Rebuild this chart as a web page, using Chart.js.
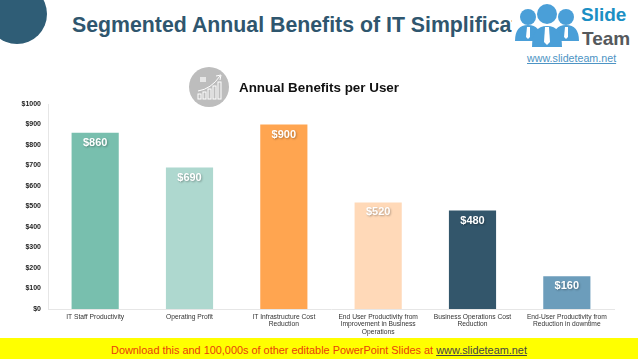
<!DOCTYPE html>
<html>
<head>
<meta charset="utf-8">
<script src="https://cdn.jsdelivr.net/npm/chart.js@4"></script>
<style>
  html, body { margin: 0; padding: 0; background: #fff; }
  body { width: 638px; height: 359px; position: relative; overflow: hidden; font-family: "Liberation Sans", Arial, sans-serif; }
  #chartBox { position: absolute; left: 0; top: 0; width: 638px; height: 359px; }
  .title { position: absolute; left: 72px; top: 13px; font-size: 21.3px; font-weight: bold; color: #2f566e; white-space: nowrap; }
  .subtitle { position: absolute; left: 239px; top: 80px; font-size: 13.4px; font-weight: bold; color: #111; white-space: nowrap; }
  .logo { position: absolute; left: 512px; top: 0; width: 126px; height: 66px; background: #fff; }
  .logo .slide { position: absolute; left: 69px; top: 4px; font-size: 19px; font-weight: bold; color: #1b8fc4; }
  .logo .team { position: absolute; left: 70px; top: 28px; font-size: 19px; font-weight: bold; color: #55595c; }
  .logo .url { position: absolute; left: 15px; top: 52px; font-size: 10.7px; color: #4d94c4; text-decoration: underline; white-space: nowrap; }
  .banner { position: absolute; left: 0; top: 338px; width: 638px; height: 21px; background: #ffff00; text-align: center; font-size: 10.9px; line-height: 24px; color: #e8400c; white-space: nowrap; }
  .banner span { color: #444; text-decoration: underline; }
  svg { position: absolute; }
</style>
</head>
<body>
<div class="title">Segmented Annual Benefits of IT Simplification</div>
<div id="chartBox"><canvas id="myChart" width="638" height="359"></canvas></div>
<svg style="left:0;top:0" width="60" height="60"><circle cx="17" cy="14" r="30" fill="#2f5d76"/></svg>
<svg style="left:189px;top:67px" width="40" height="40" viewBox="0 0 40 40">
  <circle cx="20" cy="20" r="20" fill="#bdbdbd"/>
  <g fill="none" stroke="#fff" stroke-width="1">
    <rect x="9" y="27" width="3" height="5"/><rect x="14" y="25" width="3" height="7"/>
    <rect x="19" y="22" width="3" height="10"/><rect x="24" y="19" width="3" height="13"/>
    <rect x="29" y="15" width="3" height="17"/>
    <path d="M9 24 Q22 22 31 9 M27 9 L32 8 L31 13"/>
  </g>
  <rect x="11" y="10" width="6" height="5" fill="#e6e6e6"/>
</svg>
<div class="subtitle">Annual Benefits per User</div>
<div class="logo">
  <svg style="left:0;top:0" width="70" height="50" viewBox="0 0 70 50">
    <g fill="#4a9fd8">
      <circle cx="16" cy="17" r="8"/><path d="M3 41 Q3 25 16 25 Q29 25 29 41 Z"/>
      <circle cx="54" cy="17" r="8"/><path d="M41 41 Q41 25 54 25 Q67 25 67 41 Z"/>
      <circle cx="35" cy="14" r="10"/><path d="M20 47 Q20 26 35 26 Q50 26 50 47 Z"/>
    </g>
    <g fill="#fff"><path d="M33 27 H37 L38 42 L35 45 L32 42 Z"/><path d="M15 27 H18 L18 37 L16 39 L14 37 Z"/><path d="M53 27 H56 L56 37 L54 39 L52 37 Z"/></g>
  </svg>
  <div class="slide">Slide</div>
  <div class="team">Team</div>
  <div class="url">www.slideteam.net</div>
</div>
<div class="banner">Download this and 100,000s of other editable PowerPoint Slides at <span>www.slideteam.net</span></div>
<script>
const categories = [
  'IT Staff Productivity',
  'Operating Profit',
  ['IT Infrastructure Cost', 'Reduction'],
  ['End User Productivity from', 'Improvement in Business', 'Operations'],
  ['Business Operations Cost', 'Reduction'],
  ['End-User Productivity from', 'Reduction in downtime']
];
const benefits = [860, 690, 900, 520, 480, 160];
const barColors = ['#78bfae', '#aed8cf', '#ffa550', '#ffd9b8', '#33566b', '#6c9dbb'];

// value on top of each bar
const barLabels = {
  id: 'barLabels',
  afterDatasetsDraw(chart) {
    const c = chart.ctx;
    c.save();
    c.font = 'bold 11px "Liberation Sans", Arial';
    c.textAlign = 'center';
    c.textBaseline = 'middle';
    c.fillStyle = '#fff';
    c.shadowColor = 'rgba(0,0,0,0.3)';
    c.shadowBlur = 2;
    c.shadowOffsetX = 1;
    c.shadowOffsetY = 1;
    chart.getDatasetMeta(0).data.forEach((bar, i) => {
      c.fillText('$' + benefits[i], bar.x, bar.y + 10);
    });
    c.restore();
  }
};

new Chart(document.getElementById('myChart').getContext('2d'), {
  type: 'bar',
  data: {
    labels: categories,
    datasets: [{
      data: benefits,
      backgroundColor: barColors,
      barPercentage: 1,
      categoryPercentage: 0.5
    }]
  },
  plugins: [barLabels],
  options: {
    responsive: false,
    animation: false,
    layout: { padding: { left: 0, right: 24, top: 104, bottom: 18 } },
    plugins: { legend: { display: false }, tooltip: { enabled: false } },
    scales: {
      y: {
        min: 0,
        max: 1000,
        afterFit(s) { s.width = 48; },
        border: { color: '#e6e6e6' },
        grid: { display: false, tickLength: 0 },
        ticks: {
          stepSize: 100,
          color: '#222',
          padding: 7,
          font: { family: '"Liberation Sans", Arial', size: 7, weight: 'bold' },
          callback: v => '$' + v
        }
      },
      x: {
        afterFit(s) { s.height = 32; },
        border: { color: '#e6e6e6' },
        grid: { display: false, tickLength: 0 },
        ticks: {
          color: '#333',
          maxRotation: 0,
          autoSkip: false,
          padding: 4,
          font: { family: '"Liberation Sans", Arial', size: 6.7, lineHeight: 1.15 }
        }
      }
    }
  }
});
</script>
</body>
</html>
